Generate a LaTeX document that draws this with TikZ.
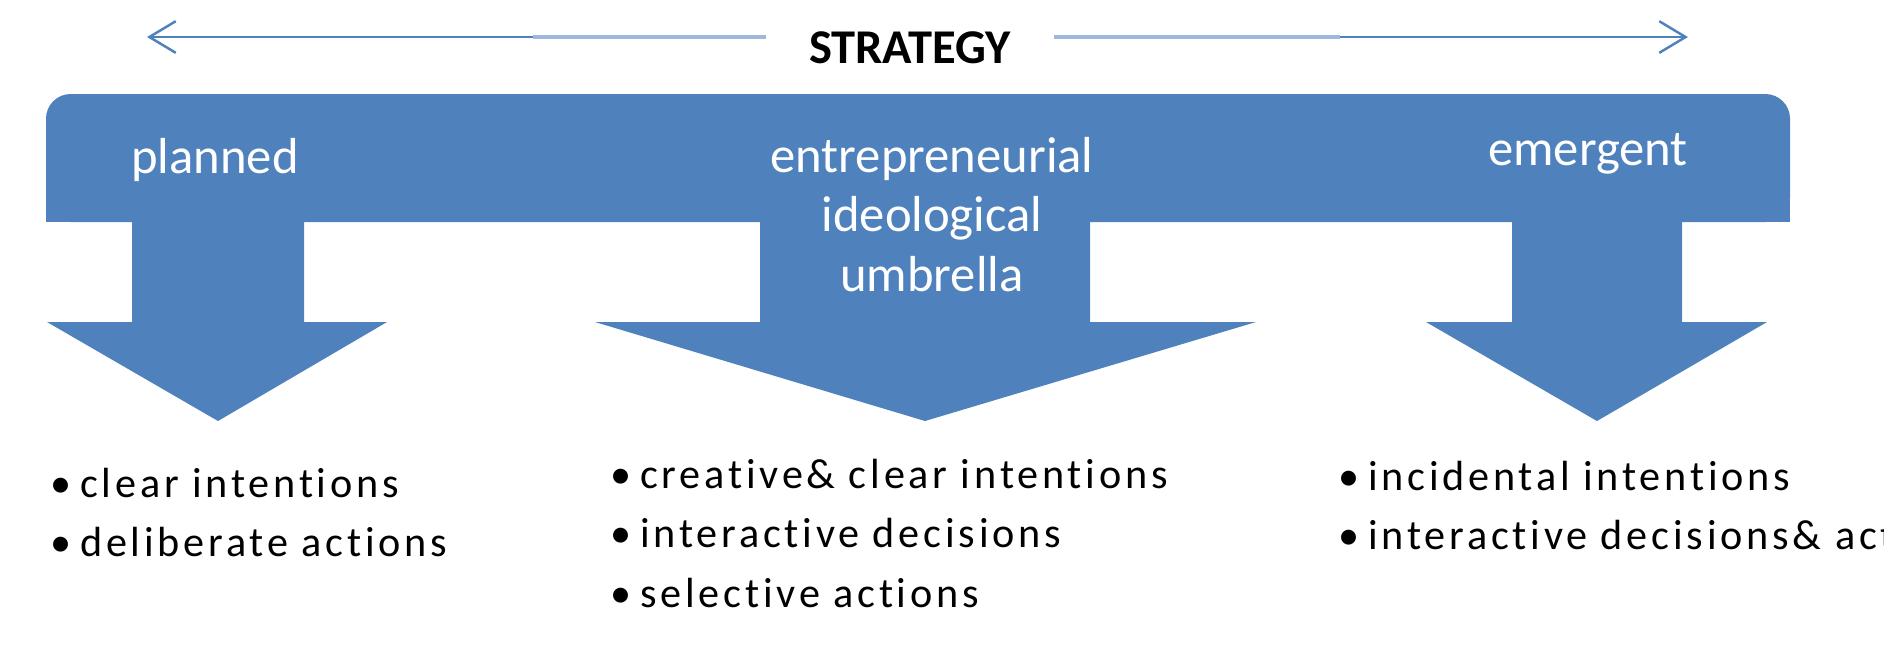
\documentclass[tikz,border=0pt]{standalone}
\usepackage{fontspec}
\setmainfont{Carlito}[Ligatures=NoCommon]
\usepackage{tikz}
\usetikzlibrary{positioning}
\usetikzlibrary{arrows.meta}

\definecolor{azul}{HTML}{4F81BD}
\definecolor{azulclaro}{HTML}{9DB8DA}

\tikzset{
  etiqueta/.style={text=white, inner sep=0pt, anchor=base, font=\fontsize{14.4}{17}\selectfont},
  punto/.style={inner sep=0pt, anchor=base west, font=\fontsize{12}{17}\selectfont\addfontfeature{LetterSpace=9}},
  linea/.style={azul, line width=0.7pt, -{Straight Barb[length=7.5pt,width=9pt]}},
  lineaclara/.style={azulclaro, line width=1.1pt},
}

\begin{document}
\begin{tikzpicture}[x=0.01cm, y=-0.01cm]
            \useasboundingbox (0,0) rectangle (1884,653);
            \clip (0,0) rectangle (1884,653);

            % Banda
            \fill[azul, rounded corners=7pt] (46,94) rectangle (1790,222);
            \fill[azul] (46,160) rectangle (1790,222);

            % Flechas
            \fill[azul] (132,210) -- (304,210) -- (304,322) -- (387,322) -- (218,421) -- (47,322) -- (132,322) -- cycle;
            \fill[azul] (760,210) -- (1090,210) -- (1090,322) -- (1256,322) -- (925,421) -- (595,322) -- (760,322) -- cycle;
            \fill[azul] (1512,210) -- (1682,210) -- (1682,322) -- (1767,322) -- (1597,421) -- (1426,322) -- (1512,322) -- cycle;

            % Nodos
            \node[inner xsep=12pt, inner ysep=0pt, anchor=base, font=\fontsize{13.8}{16}\selectfont\bfseries] (titulo) at (910,63) {STRATEGY};
            \coordinate (izq) at (147,37);
            \coordinate (der) at (1688,37);
            \coordinate (izqm) at (533,37);
            \coordinate (derm) at (1340,37);

            \node[etiqueta] (planned) at (215,173) {planned};
            \node[etiqueta] (ent) at (932,172) {entrepreneurial};
            \node[etiqueta] (ideo) at ([yshift=-17pt]ent.base) {ideological};
            \node[etiqueta] (umb) at ([yshift=-17pt]ideo.base) {umbrella};
            \node[etiqueta] (emergent) at (1588,165) {emergent};

            \node[punto] (p1) at (50,497) {•\hspace{0.2em}clear intentions};
            \node[punto] (p2) at ([yshift=-17pt]p1.base west) {•\hspace{0.2em}deliberate actions};
            \node[punto] (c1) at (610,488) {•\hspace{0.2em}creative\& clear intentions};
            \node[punto] (c2) at ([yshift=-17pt]c1.base west) {•\hspace{0.2em}interactive decisions};
            \node[punto] (c3) at ([yshift=-17pt]c2.base west) {•\hspace{0.2em}selective actions};
            \node[punto] (e1) at (1338,490) {•\hspace{0.2em}incidental intentions};
            \node[punto] (e2) at ([yshift=-17pt]e1.base west) {•\hspace{0.2em}interactive decisions\& actions};

            % Aristas
            \draw[linea] (titulo.west |- izq) -- (izq);
            \draw[linea] (titulo.east |- der) -- (der);
            \draw[lineaclara] (titulo.west |- izq) -- (izqm);
            \draw[lineaclara] (titulo.east |- der) -- (derm);
\end{tikzpicture}
\end{document}
